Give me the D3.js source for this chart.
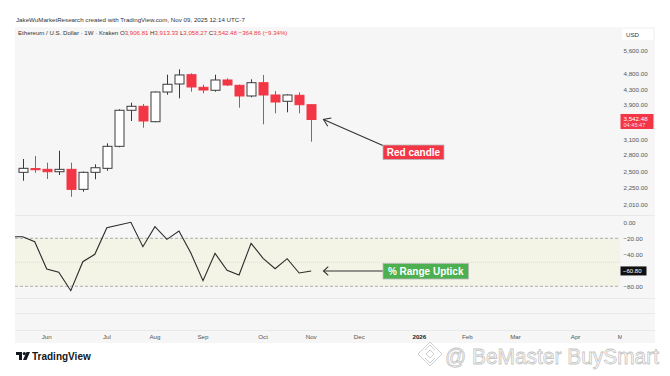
<!DOCTYPE html>
<html><head><meta charset="utf-8">
<script src="https://cdn.jsdelivr.net/npm/d3@7"></script>
<style>
html,body{margin:0;padding:0;background:#fff;}
svg{display:block;font-family:"Liberation Sans",Arial,sans-serif;}
</style></head>
<body>
<svg id="c" width="670" height="376"></svg>
<script>
// ---- data ----
const weeks = ["2025-05-19","2025-05-26","2025-06-02","2025-06-09","2025-06-16","2025-06-23","2025-06-30","2025-07-07","2025-07-14","2025-07-21","2025-07-28","2025-08-04","2025-08-11","2025-08-18","2025-08-25","2025-09-01","2025-09-08","2025-09-15","2025-09-22","2025-09-29","2025-10-06","2025-10-13","2025-10-20","2025-10-27","2025-11-03"];
const open  = [2497,2560,2547,2507,2547,2231,2497,2564,2966,3765,3866,3491,4249,4481,4765,4384,4298,4601,4442,4139,4519,4166,3996,4158,3906.81];
const high  = [2727,2782,2661,2881,2661,2510,2633,3025,3790,3959,3925,4260,4765,4939,4810,4460,4765,4653,4460,4623,4756,4278,4185,4241,3913.33];
const low   = [2362,2490,2389,2453,2124,2196,2384,2523,2947,3507,3355,3480,4174,4076,4258,4213,4258,4422,3830,4103,3431,3690,3715,3690,3058.27];
const close = [2564,2540,2507,2547,2231,2497,2574,2966,3765,3866,3507,4249,4472,4756,4393,4306,4601,4451,4139,4519,4166,3977,4166,3906.81,3542.48];

const indWeeks = ["2025-05-12"].concat(weeks);
const indValues = [-18,-18,-24.3,-58.4,-62.5,-85.5,-49.3,-40,-6.8,-3.4,0,-30.5,-5.5,-21.3,-10.9,-38.8,-73,-38.8,-60,-65.9,-26.3,-45,-58,-45.5,-63.4,-60.8];

const priceTicks = [5600,4800,4300,3900,3100,2800,2500,2250,2010];
const indTicks = [0,-20,-40,-80];
const monthTicks = [["2025-06-02","Jun"],["2025-07-07","Jul"],["2025-08-04","Aug"],["2025-09-01","Sep"],["2025-10-06","Oct"],["2025-11-03","Nov"],["2025-12-01","Dec"],["2026-01-05","2026"],["2026-02-02","Feb"],["2026-03-02","Mar"],["2026-04-06","Apr"],["2026-05-04","May"]];

const lastPrice = 3542.48, lastInd = -60.80;
// ---- layout ----
const svg = d3.select("#c");
const P = {x0:15, x1:620, right:655, top:27, priceBottom:215, indTop:216, indBottom:298, axisTop:330, axisBottom:343};
const parse = d3.utcParse("%Y-%m-%d");
const x = d3.scaleUtc().domain([parse("2025-05-19"), parse("2026-05-04")]).range([22.7, 22.7 + 50*12.02]);
const y = d3.scaleLog().domain([2010, 5600]).range([205.1, 50.3]);
const yi = d3.scaleLinear().domain([0, -80]).range([222.3, 286.3]);
const RED = "#f23645";

// header texts
svg.append("text").attr("x",16).attr("y",22).attr("font-size",6.2).attr("fill","#333")
  .text("JakeWuMarketResearch created with TradingView.com, Nov 09, 2025 12:14 UTC-7");

// panel background
svg.append("rect").attr("x",P.x0).attr("y",P.top).attr("width",P.right-P.x0).attr("height",P.axisBottom-P.top).attr("fill","#f6f6f6");
// pane separators
[P.priceBottom, P.indBottom, 313, P.axisTop].forEach(v=>{
  svg.append("line").attr("x1",P.x0).attr("x2",P.right).attr("y1",v+0.5).attr("y2",v+0.5).attr("stroke","#e9e9e9").attr("stroke-width",1);
});

const hdr = svg.append("text").attr("x",18).attr("y",35).attr("font-size",6.1).attr("fill","#333");
hdr.append("tspan").text("Ethereum / U.S. Dollar · 1W · Kraken  ");
[["O","3,906.81"],["H","3,913.33"],["L","3,058.27"],["C","3,542.48"]].forEach(([k,v])=>{
  hdr.append("tspan").attr("fill","#333").text(k);
  hdr.append("tspan").attr("fill",RED).text(v+"  ");
});
hdr.append("tspan").attr("fill",RED).text("−364.86 (−9.34%)");

// clip paths
const defs = svg.append("defs");
defs.append("clipPath").attr("id","cp").append("rect").attr("x",P.x0).attr("y",P.top).attr("width",P.x1-P.x0).attr("height",P.priceBottom-P.top);
defs.append("clipPath").attr("id","ci").append("rect").attr("x",P.x0).attr("y",P.indTop).attr("width",P.x1-P.x0).attr("height",P.indBottom-P.indTop);
defs.append("clipPath").attr("id","ca").append("rect").attr("x",P.x0).attr("y",P.axisTop).attr("width",P.x1+2-P.x0).attr("height",P.axisBottom-P.axisTop);

// candles
const candles = weeks.map((w,i)=>({d:parse(w),o:open[i],h:high[i],l:low[i],c:close[i]}));
const gc = svg.append("g").attr("clip-path","url(#cp)");
const bw = 9;
candles.forEach(k=>{
  const up = k.c >= k.o;
  const cx = Math.round(x(k.d))+0.5;
  const col = up ? "#3a3a3a" : RED;
  gc.append("line").attr("x1",cx).attr("x2",cx).attr("y1",y(k.h)).attr("y2",y(k.l)).attr("stroke",col).attr("stroke-width",1);
  const top = y(Math.max(k.o,k.c)), bot = y(Math.min(k.o,k.c));
  gc.append("rect").attr("x",cx-bw/2).attr("y",top).attr("width",bw).attr("height",Math.max(1,bot-top))
    .attr("fill", up ? "#fff" : RED).attr("stroke", up ? "#3a3a3a" : RED).attr("stroke-width",1);
});

// price axis
const pa = svg.append("g");
pa.append("rect").attr("x",622).attr("y",29).attr("width",31).attr("height",11).attr("fill","#fff");
pa.append("text").attr("x",626).attr("y",37).attr("font-size",6.2).attr("fill","#333").text("USD");
priceTicks.forEach(t=>{
  pa.append("text").attr("x",623.5).attr("y",y(t)+2.2).attr("font-size",6.2).attr("fill","#555").text(d3.format(",.2f")(t));
});
const ly = y(lastPrice);
pa.append("rect").attr("x",620.5).attr("y",ly-5.5).attr("width",33).attr("height",15).attr("fill",RED);
pa.append("text").attr("x",623.5).attr("y",ly+1.6).attr("font-size",6.2).attr("fill","#fff").text(d3.format(",.2f")(lastPrice));
pa.append("text").attr("x",623.5).attr("y",ly+7.8).attr("font-size",5.6).attr("fill","#fde").text("04:45:47");

// indicator pane
const gi = svg.append("g").attr("clip-path","url(#ci)");
gi.append("rect").attr("x",P.x0).attr("y",yi(-20)).attr("width",P.x1-P.x0).attr("height",yi(-80)-yi(-20)).attr("fill","#f3f3e6");
[-20,-80].forEach(v=>{
  gi.append("line").attr("x1",P.x0).attr("x2",P.x1+3).attr("y1",yi(v)).attr("y2",yi(v)).attr("stroke","#9a9a9a").attr("stroke-width",0.8).attr("stroke-dasharray","3,2");
});
gi.append("line").attr("x1",P.x0).attr("x2",P.x1).attr("y1",yi(-50)).attr("y2",yi(-50)).attr("stroke","#d4d4d4").attr("stroke-width",0.8).attr("stroke-dasharray","1,1");
const ind = indWeeks.map((w,i)=>({d:parse(w),v:indValues[i]}));
gi.append("path").datum(ind).attr("fill","none").attr("stroke","#2b2b2b").attr("stroke-width",1.1)
  .attr("d", d3.line().x(p=>x(p.d)).y(p=>yi(p.v)));
indTicks.forEach(t=>{
  svg.append("text").attr("x",623.5).attr("y",yi(t)+2.2).attr("font-size",6.2).attr("fill","#555").text(t===0?"0.00":"−"+d3.format(".2f")(-t));
});
svg.append("rect").attr("x",620.5).attr("y",yi(lastInd)-4.5).attr("width",26).attr("height",9).attr("fill","#111");
svg.append("text").attr("x",623).attr("y",yi(lastInd)+2.2).attr("font-size",6).attr("fill","#fff").text("−"+d3.format(".2f")(-lastInd));

// time axis
const ga = svg.append("g").attr("clip-path","url(#ca)");
monthTicks.forEach(([d,l])=>{
  ga.append("text").attr("x",x(parse(d))).attr("y",338.5).attr("text-anchor","middle").attr("font-size",6.2)
    .attr("font-weight", l==="2026" ? "bold":"normal").attr("fill", l==="2026" ? "#222":"#555").text(l);
});

// annotations
function chevron(tx,ty,dx,dy,len,ang){
  const a = Math.atan2(dy,dx);
  const pts = [[tx+len*Math.cos(a+ang), ty+len*Math.sin(a+ang)],[tx,ty],[tx+len*Math.cos(a-ang), ty+len*Math.sin(a-ang)]];
  svg.append("path").attr("d", d3.line()(pts)).attr("fill","none").attr("stroke","#333").attr("stroke-width",1.1);
}
// Red candle
svg.append("line").attr("x1",323.5).attr("y1",119.5).attr("x2",384).attr("y2",146).attr("stroke","#333").attr("stroke-width",1.1);
chevron(323.5,119.5,60,26,8,0.6);
svg.append("rect").attr("x",383).attr("y",145).attr("width",61).attr("height",14.5).attr("fill",RED).attr("stroke","#b9b9b9").attr("stroke-width",0.8);
svg.append("text").attr("x",413.5).attr("y",155.8).attr("text-anchor","middle").attr("font-size",10).attr("font-weight","bold").attr("fill","#fff").text("Red candle");
// % Range Uptick
svg.append("line").attr("x1",323.5).attr("y1",271).attr("x2",383).attr("y2",271).attr("stroke","#333").attr("stroke-width",1.1);
chevron(323.5,271,1,0,6.5,0.75);
svg.append("rect").attr("x",383).attr("y",263.5).attr("width",85.5).attr("height",15.5).attr("fill","#4caf50").attr("stroke","#b9b9b9").attr("stroke-width",0.8);
svg.append("text").attr("x",425.7).attr("y",275).attr("text-anchor","middle").attr("font-size",10).attr("font-weight","bold").attr("fill","#fff").text("% Range Uptick");

// TradingView logo
const tv = svg.append("g").attr("transform","translate(16,352)");
tv.append("path").attr("d","M0,0 H6 V8 H3 V3 H0 Z").attr("fill","#131722");
tv.append("circle").attr("cx",8.3).attr("cy",1.6).attr("r",1.6).attr("fill","#131722");
tv.append("path").attr("d","M10.5,0 H14 L10.5,8 H7 Z").attr("fill","#131722");
svg.append("text").attr("x",32).attr("y",360).attr("font-size",10).attr("font-weight","bold").attr("fill","#131722").text("TradingView");

// watermark
const wm = svg.append("g").attr("fill","none").attr("stroke","#c9c9c9").attr("stroke-width",0.9);
const bx=430, by=354;
wm.append("path").attr("d",`M${bx},${by-12} L${bx+12},${by} L${bx},${by+12} L${bx-12},${by} Z`);
wm.append("path").attr("d",`M${bx},${by-4} L${bx+4},${by} L${bx},${by+4} L${bx-4},${by} Z`);
wm.append("path").attr("d",`M${bx},${by-9} L${bx+5},${by-4} M${bx},${by-9} L${bx-5},${by-4} M${bx},${by+9} L${bx+5},${by+4} M${bx},${by+9} L${bx-5},${by+4}`);
svg.append("text").attr("x",445).attr("y",364).attr("font-size",22).attr("fill","#fff").attr("stroke","#c4c4c4").attr("stroke-width",0.8)
  .attr("textLength",214).attr("lengthAdjust","spacingAndGlyphs").text("@ BeMaster BuySmart");
</script>
</body></html>
